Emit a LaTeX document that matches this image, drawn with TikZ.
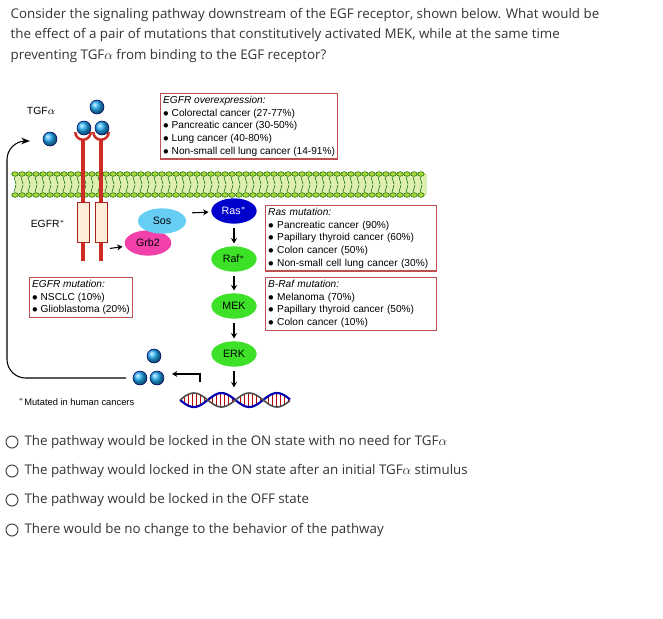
\documentclass[tikz,border=0pt]{standalone}
\usepackage{fontspec}
\setmainfont{Open Sans}
\newfontfamily\dfont{Liberation Sans}
\usetikzlibrary{arrows.meta,shapes.geometric,positioning}
\definecolor{boxred}{RGB}{190,80,80}
\definecolor{rcpred}{RGB}{205,45,35}
\definecolor{ballblue}{RGB}{40,150,240}
\definecolor{memgreen}{RGB}{175,215,60}
\definecolor{protgreen}{RGB}{60,225,40}

\begin{document}
\begin{tikzpicture}[>=Stealth, x=0.75pt, y=-0.75pt,
    qtext/.style={anchor=west, font=\fontsize{10}{11}\selectfont, text=black!80},
    lbl/.style={font=\dfont\fontsize{7.8}{9}\selectfont},
    infobox/.style={draw=boxred, thick, align=left, anchor=north west, inner sep=2pt,
        font=\dfont\fontsize{7.6}{9.5}\selectfont},
    prot/.style={ellipse, minimum width=34pt, minimum height=19pt, inner sep=0pt,
        font=\dfont\fontsize{8}{9}\selectfont},
    ball/.style={circle, ball color=ballblue!80!cyan, draw=blue!40!black, minimum size=10.5pt, inner sep=0pt},
    flow/.style={->, thick, >={Stealth[length=4pt,width=4.5pt]}, shorten >=2pt, shorten <=3pt},
    opt/.style={circle, draw=black!70, thick, minimum size=9pt, inner sep=0pt}]
    \useasboundingbox (0,0) rectangle (663,618);

    % Question
    \node[qtext] (q1) at (6,15) {Consider the signaling pathway downstream of the EGF receptor, shown below. What would be};
    \node[qtext] (q2) at (6,35) {the effect of a pair of mutations that constitutively activated MEK, while at the same time};
    \node[qtext] (q3) at (6,56) {preventing TGF$\alpha$ from binding to the EGF receptor?};

    % Membrane
    \fill[memgreen!40] (15,174) rectangle (427,195);
    \foreach \x in {15,22,...,427} {
        \draw[green!40!black, fill=memgreen] (\x,174) ellipse (3.3 and 2.3);
        \draw[green!40!black, fill=memgreen] (\x,195) ellipse (3.3 and 2.3);
        \draw[green!40!black, thin] (\x-1,177) -- (\x+1,184) (\x+1,185) -- (\x-1,192);
    }

    % Receptors
    \foreach \x in {83,101} {
        \draw[rcpred, line width=2.6pt] (\x,140) -- (\x,261);
        \fill[rcpred] (\x-9,132) arc[start angle=180, end angle=0, radius=9] -- (\x+6.5,132)
            arc[start angle=0, end angle=180, radius=6.5] -- cycle;
        \draw[rcpred!80!black, fill=orange!15] (\x-6,202) rectangle (\x+6,242);
    }
    \node[lbl] (tgfa) at (41,111) {TGF$\alpha$};
    \node[lbl] (egfr) at (48,224) {EGFR$^*$};
    \node[ball] (b1) at (97,107) {};
    \node[ball] (b2) at (84,128) {};
    \node[ball] (b3) at (102,128) {};
    \node[ball] (b4) at (50,139) {};

    % Pathway
    \node[prot, fill=magenta!75, minimum width=35pt] (grb2) at (148,243) {Grb2};
    \node[prot, fill=cyan!60, minimum width=36pt] (sos) at (162,221) {Sos};
    \node[prot, fill=blue!80!black, text=white] (ras) at (234,211) {Ras$^*$};
    \node[prot, fill=protgreen] (raf) at (234,259) {Raf$^*$};
    \node[prot, fill=protgreen] (mek) at (234,306) {MEK};
    \node[prot, fill=protgreen] (erk) at (234,354) {ERK};
    \coordinate (rcpout) at (106,249);
    \coordinate (sosout) at (188,213);
    \draw[flow] (rcpout) -- (grb2);
    \draw[flow] (sosout) -- (ras);
    \draw[flow] (ras) -- (raf);
    \draw[flow] (raf) -- (mek);
    \draw[flow] (mek) -- (erk);

    % DNA
    \coordinate (dna) at (234,390);
    \draw[flow] (erk) -- (dna);
    \foreach \t in {0,4,...,108} {
        \draw[red!70!black, thin] (180+\t,{400+7*sin(\t*6.5)}) -- (180+\t,{400-7*sin(\t*6.5)});
    }
    \draw[blue!70!black, line width=1.6pt, domain=0:110, samples=60] plot ({180+\x},{400+7*sin(\x*6.5)});
    \draw[black!70, line width=1.2pt, domain=0:110, samples=60] plot ({180+\x},{400-7*sin(\x*6.5)});

    % Secreted TGFa and feedback
    \node[ball] (s1) at (154,356) {};
    \node[ball] (s2) at (140,378) {};
    \node[ball] (s3) at (157,378) {};
    \coordinate (promoter) at (200,382);
    \coordinate (secout) at (172,374);
    \coordinate (loopend) at (30,141);
    \draw[->, thick, >={Stealth[length=4pt,width=4.5pt]}] (promoter) -- (promoter |- secout) -- (secout);
    \draw[->, thick, rounded corners=14pt] ([xshift=-5pt]s2.west) -- (7,378) -- (7,141) -- (loopend);

    % Info boxes
    \node[infobox] (over) at (160,93) {\textit{EGFR overexpression:}\\
        $\bullet$ Colorectal cancer (27-77\%)\\ $\bullet$ Pancreatic cancer (30-50\%)\\
        $\bullet$ Lung cancer (40-80\%)\\ $\bullet$ Non-small cell lung cancer (14-91\%)};
    \node[infobox, text width=124pt] (rasmut) at (265,205) {\textit{Ras mutation:}\\
        $\bullet$ Pancreatic cancer (90\%)\\ $\bullet$ Papillary thyroid cancer (60\%)\\
        $\bullet$ Colon cancer (50\%)\\ $\bullet$ Non-small cell lung cancer (30\%)};
    \node[infobox, text width=124pt] (brafmut) at (265,277) {\textit{B-Raf mutation:}\\
        $\bullet$ Melanoma (70\%)\\ $\bullet$ Papillary thyroid cancer (50\%)\\
        $\bullet$ Colon cancer (10\%)};
    \node[infobox] (egfrmut) at (29,277) {\textit{EGFR mutation:}\\
        $\bullet$ NSCLC (10\%)\\ $\bullet$ Glioblastoma (20\%)};
    \node[lbl, anchor=west, font=\dfont\fontsize{7}{8}\selectfont] (note) at (14,402) {$^*$Mutated in human cancers};

    % Answer options
    \foreach \y/\txt [count=\i] in {442/The pathway would be locked in the ON state with no need for TGF$\alpha$,
        471/The pathway would locked in the ON state after an initial TGF$\alpha$ stimulus,
        500/The pathway would be locked in the OFF state,
        530/There would be no change to the behavior of the pathway} {
        \node[opt] (o\i) at (12,\y) {};
        \node[qtext, right=1pt of o\i] (a\i) {\txt};
    }
\end{tikzpicture}
\end{document}
